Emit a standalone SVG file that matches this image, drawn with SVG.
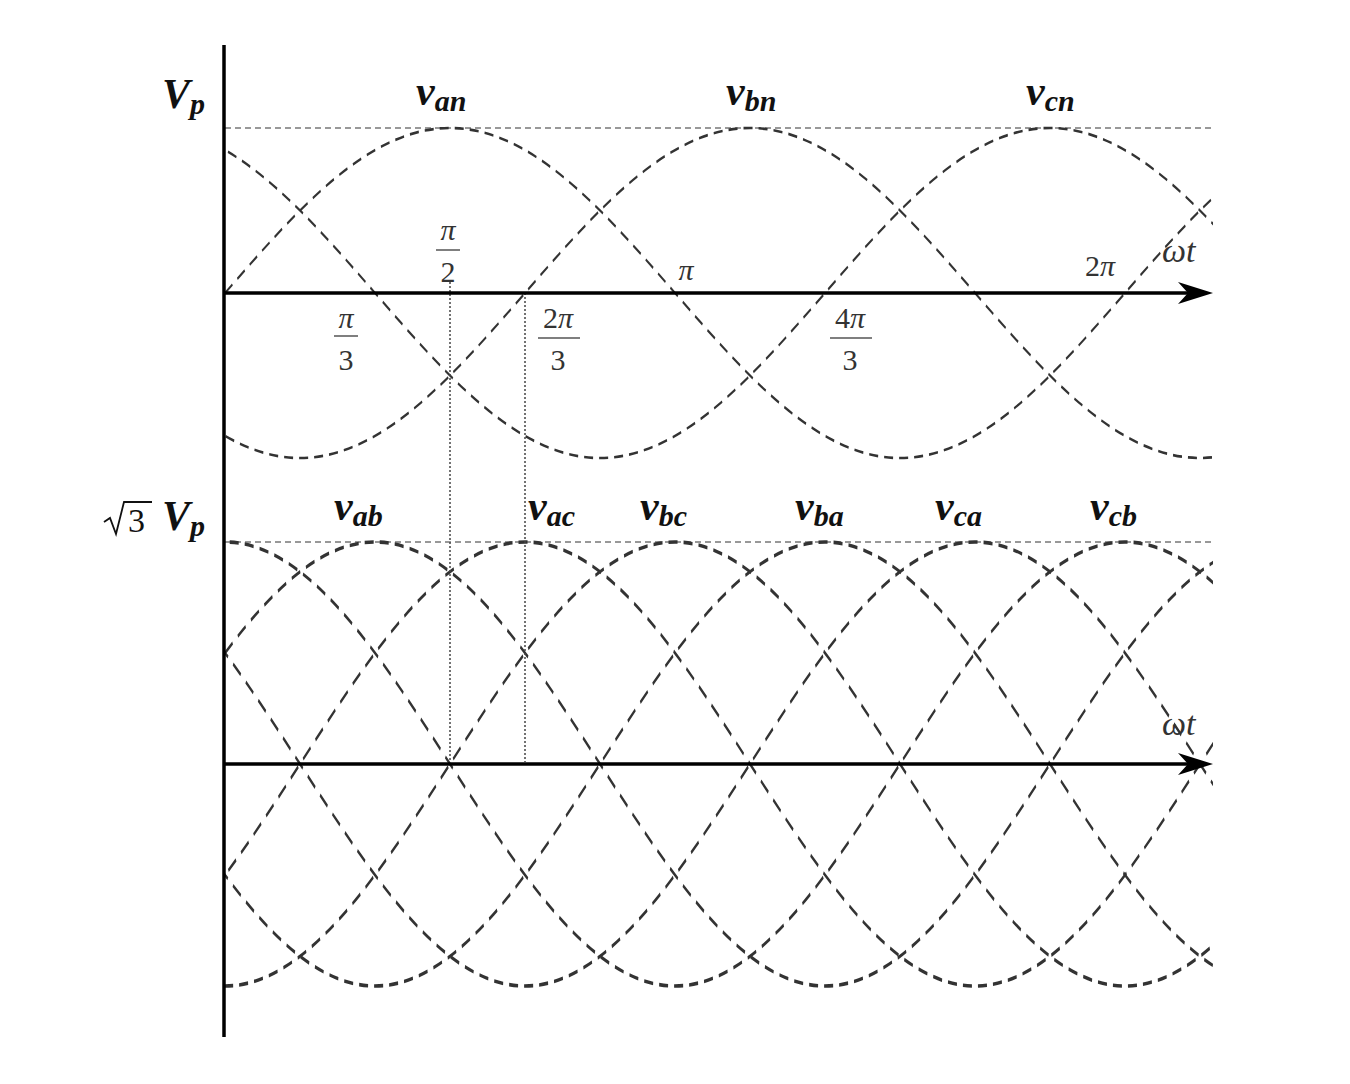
<svg xmlns="http://www.w3.org/2000/svg" width="1350" height="1084" viewBox="0 0 1350 1084">
<style>
.w{fill:none;stroke:#333;stroke-width:1.6;stroke-dasharray:9,6}
.ax{stroke:#000;stroke-width:3.5;fill:none}
.lb{font-family:"Liberation Serif",serif;font-style:italic;font-weight:bold;font-size:42px;fill:#111}
.sb{font-size:30px}
.fr{font-family:"Liberation Serif",serif;font-size:30px;fill:#333;text-anchor:middle}
</style>
<defs>
<clipPath id="c"><rect x="225" y="0" width="988" height="1084"/></clipPath>
<path id="s" d="M0,0 C73.38,-51.23 143.57,-100 225,-100 C306.43,-100 376.62,-51.23 450,0 C523.38,51.23 593.57,100 675,100 C756.43,100 826.62,51.23 900,0 C973.38,-51.23 1043.57,-100 1125,-100 C1206.43,-100 1276.62,-51.23 1350,0 C1423.38,51.23 1493.57,100 1575,100 C1656.43,100 1726.62,51.23 1800,0 C1873.38,-51.23 1943.57,-100 2025,-100 C2106.43,-100 2176.62,-51.23 2250,0"/>
<marker id="ar" markerWidth="10" markerHeight="8" refX="9" refY="4" orient="auto" markerUnits="userSpaceOnUse"><path d="M0,0 L10,4 L0,8 z" fill="#000"/></marker>
</defs>
<g id="waves" clip-path="url(#c)">
<g transform="translate(0,293) scale(1,1.65)">
<use href="#s" class="w" x="225" vector-effect="non-scaling-stroke" style="vector-effect:non-scaling-stroke"/>
<use href="#s" class="w" x="-375" style="vector-effect:non-scaling-stroke"/>
<use href="#s" class="w" x="-75" style="vector-effect:non-scaling-stroke"/>
</g>
<g transform="translate(0,764) scale(1,2.22)">
<use href="#s" class="w" x="0" style="vector-effect:non-scaling-stroke"/>
<use href="#s" class="w" x="150" style="vector-effect:non-scaling-stroke"/>
<use href="#s" class="w" x="-600" style="vector-effect:non-scaling-stroke"/>
<use href="#s" class="w" x="-450" style="vector-effect:non-scaling-stroke"/>
<use href="#s" class="w" x="-300" style="vector-effect:non-scaling-stroke"/>
<use href="#s" class="w" x="-150" style="vector-effect:non-scaling-stroke"/>
</g>
</g>
<g id="axes">
<line x1="225" y1="128" x2="1215" y2="128" stroke="#333" stroke-width="1.2" stroke-dasharray="6,4"/>
<line x1="225" y1="542" x2="1215" y2="542" stroke="#333" stroke-width="1.2" stroke-dasharray="6,4"/>
<line x1="450" y1="282" x2="450" y2="762" stroke="#444" stroke-width="1.5" stroke-dasharray="2,2"/>
<line x1="525" y1="293" x2="525" y2="762" stroke="#444" stroke-width="1.5" stroke-dasharray="2,2"/>
<line class="ax" x1="224" y1="45" x2="224" y2="1037"/>
<line class="ax" x1="224" y1="293" x2="1200" y2="293"/>
<path d="M1178,282 L1213,293 L1178,304 L1188,293 z" fill="#000"/>
<line class="ax" x1="224" y1="764" x2="1200" y2="764"/>
<path d="M1178,753 L1213,764 L1178,775 L1188,764 z" fill="#000"/>
</g>
<g id="labels">
<text class="lb" x="162" y="108">V<tspan class="sb" dy="6">p</tspan></text>
<text class="lb" x="416" y="105">v<tspan class="sb" dy="6">an</tspan></text>
<text class="lb" x="726" y="105">v<tspan class="sb" dy="6">bn</tspan></text>
<text class="lb" x="1026" y="105">v<tspan class="sb" dy="6">cn</tspan></text>
<text class="lb" x="334" y="520">v<tspan class="sb" dy="6">ab</tspan></text>
<text class="lb" x="528" y="520">v<tspan class="sb" dy="6">ac</tspan></text>
<text class="lb" x="640" y="520">v<tspan class="sb" dy="6">bc</tspan></text>
<text class="lb" x="795" y="520">v<tspan class="sb" dy="6">ba</tspan></text>
<text class="lb" x="935" y="520">v<tspan class="sb" dy="6">ca</tspan></text>
<text class="lb" x="1090" y="520">v<tspan class="sb" dy="6">cb</tspan></text>
<path d="M104,522 L110,518 L116,534 L124,502 L152,502" fill="none" stroke="#111" stroke-width="1.8"/>
<text x="128" y="532" font-family="Liberation Serif,serif" font-size="34" fill="#111">3</text>
<text class="lb" x="162" y="530">V<tspan class="sb" dy="6">p</tspan></text>
<text class="fr" x="346" y="328" font-style="italic">π</text><line x1="334" y1="336" x2="358" y2="336" stroke="#555" stroke-width="1.5"/><text class="fr" x="346" y="370">3</text>
<text class="fr" x="448" y="240" font-style="italic">π</text><line x1="436" y1="250" x2="460" y2="250" stroke="#555" stroke-width="1.5"/><text class="fr" x="448" y="282">2</text>
<text class="fr" x="558" y="328">2<tspan font-style="italic">π</tspan></text><line x1="538" y1="338" x2="580" y2="338" stroke="#555" stroke-width="1.5"/><text class="fr" x="558" y="370">3</text>
<text class="fr" x="850" y="328">4<tspan font-style="italic">π</tspan></text><line x1="830" y1="338" x2="872" y2="338" stroke="#555" stroke-width="1.5"/><text class="fr" x="850" y="370">3</text>
<text class="fr" x="686" y="280" font-style="italic">π</text>
<text class="fr" x="1100" y="276" font-size="22">2<tspan font-style="italic">π</tspan></text>
<text x="1162" y="262" font-family="Liberation Serif,serif" font-style="italic" font-size="34" fill="#333">ωt</text>
<text x="1162" y="735" font-family="Liberation Serif,serif" font-style="italic" font-size="34" fill="#333">ωt</text>
</g>
</svg>
